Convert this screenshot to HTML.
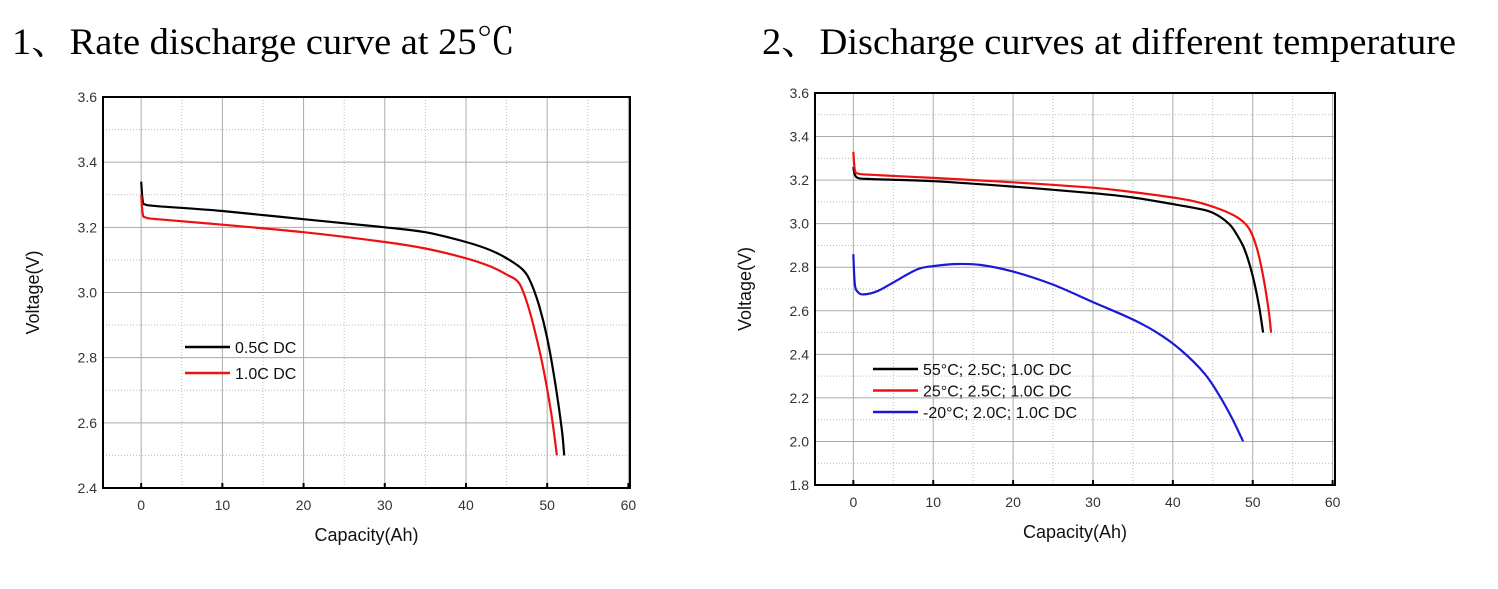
<!DOCTYPE html>
<html><head><meta charset="utf-8"><style>
html,body{margin:0;padding:0;background:#fff;}
svg{display:block;}
.title{font-family:"Liberation Serif","Noto Serif CJK SC",serif;font-size:37px;fill:#000;}
.tick{font-family:"Liberation Sans",sans-serif;font-size:14px;fill:#333;}
.axl{font-family:"Liberation Sans",sans-serif;font-size:18px;fill:#111;}
.leg{font-family:"Liberation Sans",sans-serif;font-size:16px;fill:#111;}
</style></head><body>
<svg id="root" width="1498" height="589" viewBox="0 0 1498 589" xmlns="http://www.w3.org/2000/svg">
<text class="title" x="12" y="54" textLength="503" lengthAdjust="spacingAndGlyphs">1、Rate discharge curve at 25℃</text>
<text class="title" x="762" y="54" textLength="694" lengthAdjust="spacingAndGlyphs">2、Discharge curves at different temperature</text>
<g id="c1"></g>
<g id="c2"></g>
</svg>
<script>
// Chart 1 data
const c1XTicks = [0,10,20,30,40,50,60];
const c1YTicks = [2.4,2.6,2.8,3.0,3.2,3.4,3.6];
const c1Names = ["0.5C DC","1.0C DC"];
const c1Colors = ["#000","#e11"];
const c1BlackX = [0,0.2,0.5,2,10,20,30,35,40,43,45,47,48,49,50,51,51.8,52.1];
const c1BlackY = [3.34,3.28,3.27,3.265,3.25,3.225,3.20,3.185,3.155,3.13,3.105,3.07,3.03,2.96,2.86,2.72,2.58,2.5];
const c1RedX = [0,0.2,0.6,2,10,20,30,35,40,43,45,46.5,47.5,48.5,49.5,50.5,51.2];
const c1RedY = [3.30,3.24,3.23,3.225,3.208,3.185,3.155,3.135,3.105,3.08,3.055,3.03,2.97,2.88,2.77,2.63,2.5];
// Chart 2 data
const c2XTicks = [0,10,20,30,40,50,60];
const c2YTicks = [1.8,2.0,2.2,2.4,2.6,2.8,3.0,3.2,3.4,3.6];
const c2Names = ["55°C; 2.5C; 1.0C DC","25°C; 2.5C; 1.0C DC","-20°C; 2.0C; 1.0C DC"];
const c2Colors = ["#000","#e11","#1a1ad6"];
const c2HotX = [0,0.2,0.6,2,10,20,30,35,40,43,45,47,48,49,50,50.8,51.3];
const c2HotY = [3.26,3.225,3.21,3.205,3.195,3.17,3.14,3.12,3.09,3.07,3.05,3.00,2.95,2.88,2.76,2.62,2.5];
const c2RoomX = [0,0.2,0.6,2,10,20,30,35,40,43,46,48,49.5,50.5,51.3,52,52.3];
const c2RoomY = [3.33,3.245,3.23,3.225,3.21,3.19,3.165,3.145,3.12,3.10,3.065,3.03,2.98,2.89,2.76,2.6,2.5];
const c2ColdX = [0,0.2,0.6,1.3,3,5,8,10,13,16,20,25,30,35,38,41,44,46,47.5,48.8];
const c2ColdY = [2.86,2.72,2.685,2.675,2.69,2.73,2.79,2.805,2.815,2.81,2.78,2.72,2.64,2.56,2.5,2.42,2.31,2.2,2.1,2.0];

const NS="http://www.w3.org/2000/svg";
function mk(parent,tag,attrs){const e=document.createElementNS(NS,tag);for(const k in attrs)e.setAttribute(k,attrs[k]);parent.appendChild(e);return e;}
function smooth(pts){
  let d='M'+pts[0][0].toFixed(1)+','+pts[0][1].toFixed(1);
  for(let i=0;i<pts.length-1;i++){
    const p0=pts[Math.max(0,i-1)],p1=pts[i],p2=pts[i+1],p3=pts[Math.min(pts.length-1,i+2)];
    const c1x=p1[0]+(p2[0]-p0[0])/6,c1y=p1[1]+(p2[1]-p0[1])/6;
    const c2x=p2[0]-(p3[0]-p1[0])/6,c2y=p2[1]-(p3[1]-p1[1])/6;
    d+=' C'+c1x.toFixed(1)+','+c1y.toFixed(1)+' '+c2x.toFixed(1)+','+c2y.toFixed(1)+' '+p2[0].toFixed(1)+','+p2[1].toFixed(1);
  }
  return d;
}
function drawChart(g,cfg){
  const X=v=>cfg.l+(v-cfg.x0)/(cfg.x1-cfg.x0)*(cfg.r-cfg.l);
  const Y=v=>cfg.b-(v-cfg.y0)/(cfg.y1-cfg.y0)*(cfg.b-cfg.t);
  const yStep=cfg.yTicks[1]-cfg.yTicks[0];
  for(let i=0;i<cfg.xTicks.length;i++){
    const xm=X(cfg.xTicks[i]-5);
    if(xm>cfg.l+1){const m=mk(g,'line',{x1:xm,x2:xm,y1:cfg.t,y2:cfg.b,stroke:'#bbb','stroke-dasharray':'1,2','stroke-width':1});
    
    }
  }
  for(let i=0;i<cfg.yTicks.length-1;i++){
    const ym=Y(cfg.yTicks[i]+yStep/2);
    const m=mk(g,'line',{x1:cfg.l,x2:cfg.r,y1:ym,y2:ym,stroke:'#bbb','stroke-dasharray':'1,2','stroke-width':1});
    
    
  }
  cfg.xTicks.forEach(v=>{
    const x=X(v);
    const gl=mk(g,'line',{x1:x,x2:x,y1:cfg.t,y2:cfg.b,stroke:'#aaa','stroke-width':1});
    
    
    const tk=mk(g,'line',{x1:x,x2:x,y1:cfg.b-5,y2:cfg.b,stroke:'#000','stroke-width':2});
    
    
    const tx=mk(g,'text',{class:'tick',x:x,y:cfg.b+22,'text-anchor':'middle'});tx.textContent=String(v);
    
    
  });
  cfg.yTicks.forEach(v=>{
    const y=Y(v);
    const gl=mk(g,'line',{x1:cfg.l,x2:cfg.r,y1:y,y2:y,stroke:'#aaa','stroke-width':1});
    
    
    const tx=mk(g,'text',{class:'tick',x:cfg.l-6,y:y+5,'text-anchor':'end'});tx.textContent=v.toFixed(1);
    
    
  });
  const fr=mk(g,'rect',{x:cfg.l,y:cfg.t,width:cfg.r-cfg.l,height:cfg.b-cfg.t,fill:'none',stroke:'#000','stroke-width':2});
  
  
  cfg.series.forEach((s,i)=>{
    const pts=s.x.map((xv,j)=>[X(xv),Y(s.y[j])]);
    const p=mk(g,'path',{d:smooth(pts),fill:'none',stroke:cfg.colors[i],'stroke-width':2.2,'stroke-linejoin':'round'});
    
    
    const ly=cfg.legY+i*cfg.legDy;
    const ll=mk(g,'line',{x1:cfg.legX,x2:cfg.legX+45,y1:ly,y2:ly,stroke:cfg.colors[i],'stroke-width':2.5});
    
    
    const lt=mk(g,'text',{class:'leg',x:cfg.legX+50,y:ly+6,'font-size':cfg.legFs});lt.textContent=cfg.names[i];
    
    
  });
  const xl=mk(g,'text',{class:'axl',x:(cfg.l+cfg.r)/2,y:cfg.b+53,'text-anchor':'middle'});xl.textContent='Capacity(Ah)';
  
  
  const yx=cfg.l-64, yy=(cfg.t+cfg.b)/2;
  const yl=mk(g,'text',{class:'axl',x:yx,y:yy,'text-anchor':'middle',transform:'rotate(-90 '+yx+' '+yy+')'});yl.textContent='Voltage(V)';
  
  
}
drawChart(document.getElementById('c1'),{l:103,r:630,t:97,b:488,x0:-4.7,x1:60.2,y0:2.4,y1:3.6,
  xTicks:c1XTicks,yTicks:c1YTicks,names:c1Names,colors:c1Colors,
  series:[{x:c1BlackX,y:c1BlackY},{x:c1RedX,y:c1RedY}],legX:185,legY:347,legDy:26,legFs:17});
drawChart(document.getElementById('c2'),{l:815,r:1335,t:93,b:485,x0:-4.8,x1:60.3,y0:1.8,y1:3.6,
  xTicks:c2XTicks,yTicks:c2YTicks,names:c2Names,colors:c2Colors,
  series:[{x:c2HotX,y:c2HotY},{x:c2RoomX,y:c2RoomY},{x:c2ColdX,y:c2ColdY}],legX:873,legY:369,legDy:21.5,legFs:16});
</script>
</body></html>
